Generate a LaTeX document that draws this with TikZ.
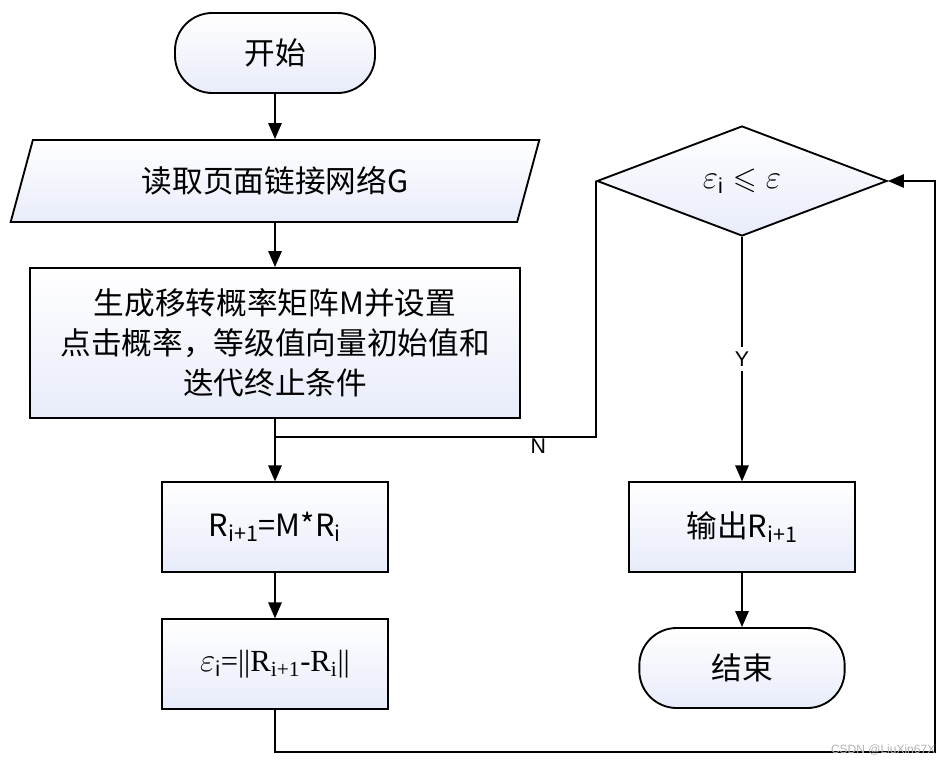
\documentclass[tikz,border=0pt]{standalone}
\usepackage{amssymb}
\usepackage{fontspec}
\setmainfont{Liberation Sans}
\newfontfamily\cjk{Noto Sans CJK SC}
\usetikzlibrary{shapes.geometric,arrows.meta}
\definecolor{boxfill}{RGB}{232,236,250}
\tikzset{
    base/.style={draw,line width=1.4pt,top color=white,bottom color=boxfill,
        font=\cjk\fontsize{23}{30}\selectfont,align=center,inner sep=0pt},
    term node/.style={base,rounded corners=28pt,minimum width=150pt,minimum height=60pt},
    io node/.style={base,trapezium,trapezium left angle=67,trapezium right angle=113,
        trapezium stretches=true,minimum height=61.5pt,minimum width=397pt},
    step node/.style={base,minimum width=169pt,minimum height=67pt},
    test node/.style={base,diamond,aspect=2.64,minimum width=217.5pt,minimum height=82.5pt},
    flow/.style={line width=1.4pt,-{Triangle[length=12pt,width=10pt]}},
    line/.style={line width=1.4pt}
    }
\begin{document}
\begin{tikzpicture}[x=0.75pt,y=-0.75pt]
    \useasboundingbox (0,0) rectangle (950,764);
    \node(start)[term node] at (275,53) {开始};
    \node(read)[io node] at (275,181) {读取页面链接网络G};
    \node(init)[base,minimum width=367.5pt,minimum height=112.5pt] at (275,343)
        {生成移转概率矩阵M并设置\\点击概率，等级值向量初始值和\\迭代终止条件};
    \node(iter)[step node] at (275,527) {R\textsubscript{i+1}=M*R\textsubscript{i}};
    \node(err)[step node] at (275,664)
        {\fontspec{Liberation Serif}$\varepsilon_{\mathrm{i}}$=||R\textsubscript{i+1}-R\textsubscript{i}||};
    \node(test)[test node] at (742,181)
        {\fontspec{Liberation Serif}$\varepsilon_{\mathrm{i}}\leqslant\varepsilon$};
    \node(out)[step node] at (742,527) {输出R\textsubscript{i+1}};
    \node(stop)[term node,minimum width=154pt] at (742,668) {结束};
    \coordinate(split) at (275,437);
    \coordinate(low) at (275,752);
    \coordinate(back) at (935,752);
    % connectors
    \draw[flow] (start) -- (read);
    \draw[flow] (read) -- (init);
    \draw[flow] (init) -- (iter);
    \draw[flow] (iter) -- (err);
    \draw[line] (split) -| node[pos=0.41,below,inner sep=1pt,font=\fontsize{16}{16}\selectfont]{N} (test.west);
    \draw[flow] (test) -- node[fill=white,font=\fontsize{16}{16}\selectfont]{Y} (out);
    \draw[flow] (out) -- (stop);
    \draw[flow] (err) -- (low) -- (back) |- (test.east);
    \node(mark)[text=gray!60,font=\fontsize{9}{9}\selectfont,anchor=east] at (940,750) {CSDN @LiuXin67X};
\end{tikzpicture}
\end{document}
